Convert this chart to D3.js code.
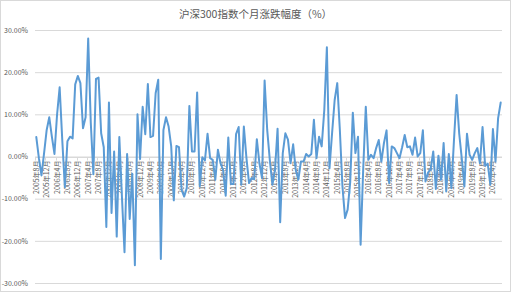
<!DOCTYPE html>
<html><head><meta charset="utf-8">
<script src="https://cdn.jsdelivr.net/npm/d3@7"></script>
<style>
html,body{margin:0;padding:0;background:#fff;}
svg{display:block;font-family:"Noto Sans CJK SC","Noto Sans",sans-serif;}
</style></head>
<body><svg id="c" width="511" height="292"></svg>
<script>
const title = "沪深300指数个月涨跌幅度（%）";
const startYear = 2005, startMonth = 8;
const yTicks = [30, 20, 10, 0, -10, -20, -30];
const monthlyChange = [
4.6,-0.4,-4.5,0.8,6.3,9.3,4.7,0.6,9.9,16.4,4.0,-7.3,3.6,4.7,4.3,17.1,19.1,17.4,6.7,9.3,
28.0,8.0,-4.2,18.4,18.7,5.5,2.2,-16.7,12.8,-13.4,1.2,-19.0,4.6,-9.5,-22.7,0.6,-14.8,-4.1,-25.8,10.0,
-0.6,11.8,5.3,17.2,4.6,4.9,15.0,18.2,-24.3,6.3,9.3,7.1,2.4,-10.4,2.5,2.2,-7.9,-9.5,-7.5,12.0,
1.2,1.2,15.2,-7.1,-0.2,-0.9,5.4,-0.4,-0.8,-5.5,1.6,-1.6,-3.2,-9.3,4.5,-6.5,-6.5,5.3,7.0,-6.7,
7.1,-0.4,-6.3,-5.1,-5.4,4.1,-1.6,-5.1,18.0,6.3,-0.8,-6.7,-3.2,6.6,-15.6,0.8,5.5,4.0,-1.6,2.9,
-3.2,-5.5,-1.2,-1.2,0.6,0.0,0.6,8.7,-0.4,4.7,2.4,11.0,25.9,-2.8,5.5,13.4,17.4,6.3,-7.1,-14.6,
-12.6,-6.0,10.4,0.8,4.7,-20.9,-3.0,11.8,-0.8,0.4,-0.4,2.0,3.9,-1.2,3.2,6.2,-6.3,2.4,2.0,0.8,
-0.4,2.2,5.1,2.2,2.4,0.4,4.5,0.0,0.8,6.2,-5.9,-3.8,-3.0,1.2,-7.7,0.2,-5.5,3.2,-8.3,0.6,
-7.5,4.0,14.6,5.5,-0.5,-7.1,5.4,0.4,-0.8,0.8,2.0,-1.6,7.0,-2.2,-1.7,-6.7,6.5,-1.2,9.1,12.8
];
const categories = monthlyChange.map((d, i) => {
  const m = startMonth - 1 + i;
  return (startYear + Math.floor(m / 12)) + "年" + (m % 12 + 1) + "月";
});
const tickLabels = [
"2005年8月","2005年12月","2006年4月","2006年8月","2006年12月","2007年4月","2007年8月","2007年12月",
"2008年4月","2008年8月","2008年12月","2009年4月","2009年8月","2009年12月","2010年4月","2010年8月",
"2010年12月","2011年4月","2011年8月","2011年12月","2012年4月","2012年8月","2012年12月","2013年4月",
"2013年8月","2013年12月","2014年4月","2014年8月","2014年12月","2015年4月","2015年8月","2015年12月",
"2016年4月","2016年8月","2016年12月","2017年4月","2017年8月","2017年12月","2018年4月","2018年8月",
"2018年12月","2019年4月","2019年8月","2019年12月","2020年4月"
];

(function () {
const svg = d3.select("#c");
const W = 511, H = 292;
const mLeft = 35, mRight = 502, mTop = 30, mBottom = 283;
const textColor = "#595959", gridColor = "#d9d9d9", lineColor = "#5B9BD5";

svg.append("rect").attr("x", 0.5).attr("y", 0.5).attr("width", W - 1).attr("height", H - 1)
  .attr("fill", "#fff").attr("stroke", gridColor);

svg.append("text").attr("x", 255.5).attr("y", 18).attr("text-anchor", "middle")
  .attr("font-size", 10.5).attr("fill", textColor).text(title);

const x = d3.scaleBand().domain(categories).range([mLeft, mRight]).paddingInner(0).paddingOuter(0);
const y = d3.scaleLinear().domain([-30, 30]).range([mBottom, mTop]);

const yAxis = d3.axisLeft(y).tickValues(yTicks).tickSize(-(mRight - mLeft)).tickPadding(7)
  .tickFormat(d => d.toFixed(2) + "%");
const gy = svg.append("g").attr("transform", `translate(${mLeft},0)`).call(yAxis);
gy.select(".domain").remove();
gy.selectAll(".tick line").attr("stroke", gridColor).attr("stroke-width", 1);
gy.selectAll(".tick text").attr("fill", textColor).attr("font-size", 7).attr("font-family", "'Noto Sans CJK SC','Noto Sans',sans-serif");

const y0 = Math.round(y(0)) + 0.5;
svg.append("line").attr("x1", mLeft).attr("x2", mRight).attr("y1", y0).attr("y2", y0)
  .attr("stroke", gridColor);
const tickCats = categories.filter(c => tickLabels.includes(c));
svg.append("g").selectAll("line").data(tickCats).join("line")
  .attr("x1", d => Math.round(x(d)) + 0.5).attr("x2", d => Math.round(x(d)) + 0.5)
  .attr("y1", y0).attr("y2", y0 + 3).attr("stroke", gridColor);
svg.append("g").selectAll("text").data(tickCats).join("text")
  .attr("transform", d => `translate(${x(d) + x.bandwidth() / 2},${y0 + 3}) rotate(-90)`)
  .attr("text-anchor", "end").attr("dy", "0.35em")
  .attr("font-size", 7).attr("fill", textColor).text(d => d);

const line = d3.line().x((d, i) => x(categories[i]) + x.bandwidth() / 2).y(d => y(d));
svg.append("path").datum(monthlyChange).attr("d", line)
  .attr("fill", "none").attr("stroke", lineColor).attr("stroke-width", 2)
  .attr("stroke-linejoin", "round").attr("stroke-linecap", "round");
})();
</script></body></html>
